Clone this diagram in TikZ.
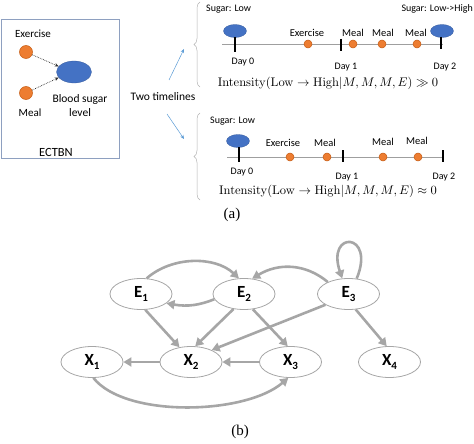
\documentclass[tikz,border=0pt]{standalone}
\usepackage[no-math]{fontspec}
\newfontfamily\calfont{Carlito}
\newfontfamily\timesfont{Liberation Serif}
\usetikzlibrary{arrows.meta,decorations.pathreplacing,shapes.geometric}
\definecolor{sblue}{HTML}{4472C4}
\definecolor{sorange}{HTML}{ED7D31}
\definecolor{dorange}{HTML}{C55A11}
\definecolor{ggrey}{HTML}{A6A6A6}
\definecolor{lblue}{HTML}{5B9BD5}
\definecolor{boxc}{HTML}{8EA0C0}
\begin{document}
\begin{tikzpicture}[x=1pt,y=-1pt,
  lbl/.style={font=\calfont\fontsize{10}{10}\selectfont, inner sep=0pt},
  evl/.style={font=\calfont\fontsize{10.5}{10.5}\selectfont, inner sep=0pt},
  lblb/.style={font=\calfont\fontsize{11}{11}\selectfont, inner sep=0pt},
  dot/.style={circle, fill=sorange, draw=dorange, line width=0.5pt, minimum size=8pt, inner sep=0pt},
  sugar/.style={ellipse, fill=sblue, draw=sblue!80!black, line width=0.3pt, minimum width=23pt, minimum height=13pt, inner sep=0pt},
  tick/.style={line width=2pt},
  tline/.style={draw=gray!75, line width=0.9pt},
  gnode/.style={ellipse, draw=gray!70, line width=0.8pt, minimum width=62pt, minimum height=31pt, inner sep=0pt, font=\calfont\bfseries\fontsize{17}{17}\selectfont},
  gedge/.style={draw=ggrey, line width=2.6pt, -{Triangle[length=8pt,width=9pt]}}]
\useasboundingbox (0,0) rectangle (474,444);

% ---------- ECTBN box ----------
\node[draw=boxc, line width=0.7pt, minimum width=118pt, minimum height=139pt, inner sep=0pt] (box) at (60,88.5) {};
\node[lblb] (exlbl) at (33,34) {Exercise};
\node[dot, minimum size=13pt] (ex) at (26,52) {};
\node[dot, minimum size=13pt] (meal) at (26,93) {};
\node[lblb] (meallbl) at (30,113) {Meal};
\node[ellipse, fill=sblue, draw=sblue!80!black, line width=0.3pt, minimum width=35pt, minimum height=22pt, inner sep=0pt] (bs) at (74,72) {};
\node[align=center, inner sep=0pt, font=\calfont\fontsize{11.5}{14}\selectfont] (bslbl) at (80,106) {Blood sugar\\level};
\node[inner sep=0pt, font=\calfont\fontsize{12.5}{12.5}\selectfont] (ectbn) at (56,152) {ECTBN};
\draw[densely dotted, line width=0.7pt, draw=black!80, -{Stealth[length=4pt,width=3.5pt]}] (ex) -- (bs.160);
\draw[densely dotted, line width=0.7pt, draw=black!80, -{Stealth[length=4pt,width=3.5pt]}] (meal) -- (bs.200);

% ---------- Two timelines ----------
\node[font=\calfont\fontsize{11.5}{11.5}\selectfont, inner sep=0pt] (two) at (163,97) {Two timelines};
\coordinate (up1) at (169,80);
\coordinate (up2) at (184,49);
\coordinate (dn1) at (167,114);
\coordinate (dn2) at (184,139);
\draw[lblue, line width=0.5pt, -{Stealth[length=4pt,width=3.5pt]}] (up1) -- (up2);
\draw[lblue, line width=0.5pt, -{Stealth[length=4pt,width=3.5pt]}] (dn1) -- (dn2);

\coordinate (b1a) at (200,87);
\coordinate (b1b) at (200,2);
\coordinate (b2a) at (200,200);
\coordinate (b2b) at (200,113);
\draw[gray!60, line width=0.5pt, decorate, decoration={brace, amplitude=6pt}] (b1a) -- (b1b);
\draw[gray!60, line width=0.5pt, decorate, decoration={brace, amplitude=6pt}] (b2a) -- (b2b);

% ---------- Timeline 1 ----------
\coordinate (t1s) at (222,44);
\coordinate (t1e) at (443,44);
\draw[tline] (t1s) -- (t1e);
\node[lbl, anchor=west] (s1) at (206,9) {Sugar: Low};
\node[lbl, anchor=east] (s1b) at (473,9) {Sugar: Low->High};
\node[sugar] (e1a) at (235,31) {};
\node[sugar] (e1b) at (442,31) {};
\coordinate (k0a) at (235,37); \coordinate (k0b) at (235,52);
\draw[tick] (k0a) -- (k0b);
\coordinate (k1a) at (341,39); \coordinate (k1b) at (341,51);
\draw[tick] (k1a) -- (k1b);
\coordinate (k2a) at (441,37); \coordinate (k2b) at (441,49);
\draw[tick] (k2a) -- (k2b);
\node[dot] (x1) at (308,44) {};
\node[dot] (m1) at (353,44) {};
\node[dot] (m2) at (382,44) {};
\node[dot] (m3) at (417,44) {};
\node[evl] (lx1) at (307,33) {Exercise};
\node[evl] (lm1) at (353,33) {Meal};
\node[evl] (lm2) at (383,33) {Meal};
\node[evl] (lm3) at (416,33) {Meal};
\node[lbl] (d0) at (243,62) {Day 0};
\node[lbl] (d1) at (346,67) {Day 1};
\node[lbl] (d2) at (445,67) {Day 2};
\node[inner sep=0pt] (f1) at (328,83) {\scalebox{1.25}{$\mathrm{Intensity}(\mathrm{Low}\rightarrow\mathrm{High}|M,M,M,E)\gg0$}};

% ---------- Timeline 2 ----------
\coordinate (t2s) at (227,157);
\coordinate (t2e) at (443,157);
\draw[tline] (t2s) -- (t2e);
\node[lbl, anchor=west] (s2) at (210,121) {Sugar: Low};
\node[sugar] (e2a) at (238,141) {};
\coordinate (q0a) at (239,147); \coordinate (q0b) at (239,162);
\draw[tick] (q0a) -- (q0b);
\coordinate (q1a) at (343,150); \coordinate (q1b) at (343,162);
\draw[tick] (q1a) -- (q1b);
\coordinate (q2a) at (443,150); \coordinate (q2b) at (443,162);
\draw[tick] (q2a) -- (q2b);
\node[dot] (y1) at (290,157) {};
\node[dot] (n1) at (327,157) {};
\node[dot] (n2) at (383,157) {};
\node[dot] (n3) at (418,157) {};
\node[evl] (ly1) at (283,143) {Exercise};
\node[evl] (ln1) at (325,143) {Meal};
\node[evl] (ln2) at (383,142) {Meal};
\node[evl] (ln3) at (417,141) {Meal};
\node[lbl] (dd0) at (242,172) {Day 0};
\node[lbl] (dd1) at (347,177) {Day 1};
\node[lbl] (dd2) at (444,177) {Day 2};
\node[inner sep=0pt] (f2) at (328,191) {\scalebox{1.25}{$\mathrm{Intensity}(\mathrm{Low}\rightarrow\mathrm{High}|M,M,M,E)\approx0$}};

\node[font=\timesfont\fontsize{15}{15}\selectfont, inner sep=0pt] (capa) at (232,215) {(a)};

% ---------- Part (b) ----------
\node[gnode] (E1) at (141,294) {E\raisebox{-0.4ex}{\fontsize{11}{11}\selectfont 1}};
\node[gnode] (E2) at (244,294) {E\raisebox{-0.4ex}{\fontsize{11}{11}\selectfont 2}};
\node[gnode] (E3) at (348.5,294) {E\raisebox{-0.4ex}{\fontsize{11}{11}\selectfont 3}};
\node[gnode] (X1) at (92,362) {X\raisebox{-0.4ex}{\fontsize{11}{11}\selectfont 1}};
\node[gnode] (X2) at (191,362) {X\raisebox{-0.4ex}{\fontsize{11}{11}\selectfont 2}};
\node[gnode] (X3) at (290.5,362) {X\raisebox{-0.4ex}{\fontsize{11}{11}\selectfont 3}};
\node[gnode] (X4) at (389.5,362) {X\raisebox{-0.4ex}{\fontsize{11}{11}\selectfont 4}};

\draw[gedge] (E1.70) .. controls (172,256) and (215,256) .. (E2.108);
\draw[gedge] (E2.190) .. controls (200,305) and (188,307) .. (E1.340);
\draw[gedge] (E3.150) .. controls (305,263) and (278,263) .. (E2.62);
\draw[gedge] (E3.62) .. controls (376,232) and (326,230) .. (E3.112);
\draw[gedge] (E1.285) -- (X2.128);
\draw[gedge] (E2.235) -- (X2.75);
\draw[gedge] (E2.300) -- (X3.100);
\draw[gedge] (E3.205) -- (X2.30);
\draw[gedge] (E3.295) -- (X4.100);
\draw[gedge] (X2) -- (X1);
\draw[gedge] (X3) -- (X2);
\draw[gedge] (X1.275) .. controls (125,418) and (245,415) .. (X3.262);

\node[font=\timesfont\fontsize{15}{15}\selectfont, inner sep=0pt] (capb) at (240,432) {(b)};
\end{tikzpicture}
\end{document}
